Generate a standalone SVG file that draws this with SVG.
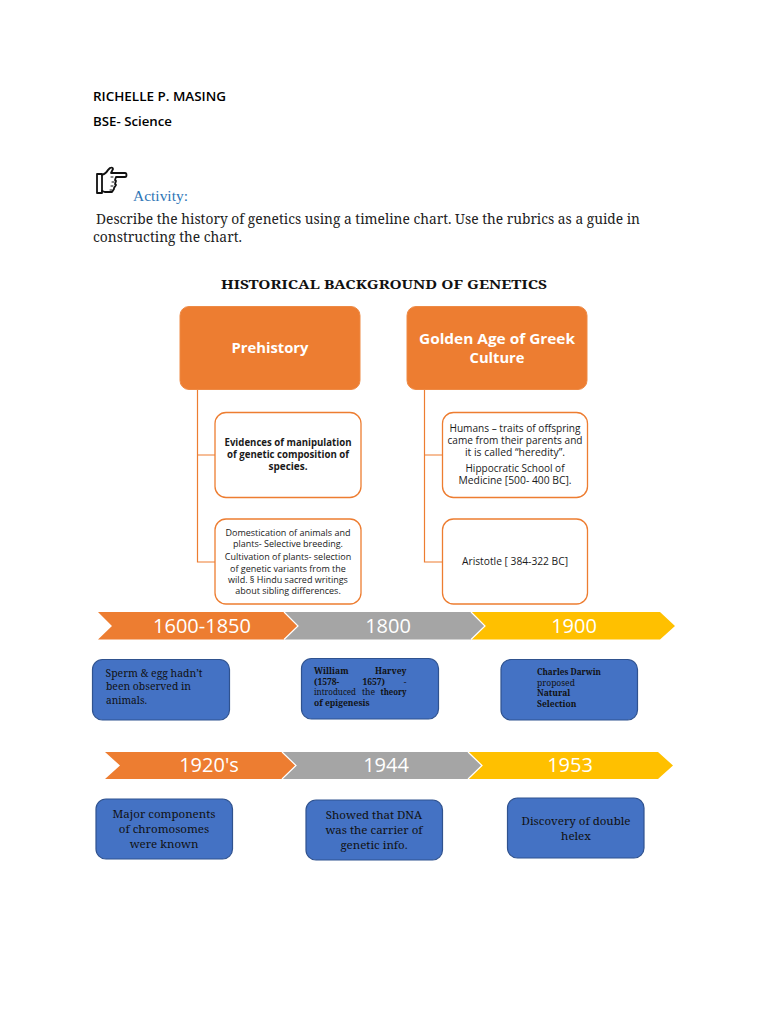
<svg xmlns="http://www.w3.org/2000/svg" width="768" height="1024" viewBox="0 0 768 1024">
<style>
text{font-family:"Open Sans","Noto Sans",sans-serif;fill:#1a1a1a}
.hd{font-size:13px;font-weight:600;fill:#000}
.body{font-family:"Noto Serif","DejaVu Serif","Liberation Serif",serif;font-size:14px;fill:#222}
.head{fill:#ed7d31;stroke:#ee8a45;stroke-width:1}
.headt{fill:#fff;font-size:14px;font-weight:700;text-anchor:middle}
.card{fill:#fff;stroke:#ed7d31;stroke-width:1.300}
.s{font-size:10px;text-anchor:middle}
.sm{font-size:9px;text-anchor:middle}
.yr{fill:#fff;font-size:20px;text-anchor:middle}
.blue{fill:#4472c4;stroke:#2f528f;stroke-width:1.200}
.bt{font-family:"Noto Serif","DejaVu Serif",serif;font-size:11px;fill:#111}
.btm{font-family:"Noto Serif","DejaVu Serif",serif;font-size:11.500px;fill:#111;text-anchor:middle}
.bb{font-family:"Noto Serif","DejaVu Serif",serif;font-size:8.500px;fill:#111;font-weight:700}
.bn{font-family:"Noto Serif","DejaVu Serif",serif;font-size:8.500px;fill:#111}
.c{fill:none;stroke:#ed7d31;stroke-width:1.200}
</style>
<g id="header">
<text class="hd" x="93" y="101" textLength="133" lengthAdjust="spacingAndGlyphs">RICHELLE P. MASING</text>
<text class="hd" x="93" y="126" textLength="79" lengthAdjust="spacingAndGlyphs">BSE- Science</text>
<g id="hand-icon" fill="none" stroke="#111" stroke-width="1.800" stroke-linejoin="round" stroke-linecap="round">
<path d="M97 174h5v19h-5z"/>
<path d="M102 175c3-1 5-3 6-5l2-2c2-1 3 0 3 1l-2 4h14c2 0 2 4 0 4h-9l-1 3 1 1-1 3 1 1-2 3 0 1-2 3h-7c-1 0-2-1-3-1"/>
<path d="M113 177h-2M114 182h-2M113 186h-2M112 190h-2" stroke-width="1"/>
</g>
<text x="133" y="201" font-size="14.500" style="font-family:'Liberation Serif',serif;fill:#2e75b6" textLength="55" lengthAdjust="spacingAndGlyphs">Activity:</text>
<text class="body" x="96" y="224" textLength="544" lengthAdjust="spacingAndGlyphs">Describe the history of genetics using a timeline chart. Use the rubrics as a guide in</text>
<text class="body" x="93" y="242" textLength="149" lengthAdjust="spacingAndGlyphs">constructing the chart.</text>
</g>
<text id="title" x="384" y="289" text-anchor="middle" style="font-family:'Noto Serif','DejaVu Serif',serif;font-weight:700;fill:#111" font-size="13" textLength="326" lengthAdjust="spacingAndGlyphs">HISTORICAL BACKGROUND OF GENETICS</text>
<g id="connectors">
<path class="c" d="M197.500 390V562H215M197.500 455H215"/>
<path class="c" d="M424.500 390V562H442M424.500 455H442"/>
</g>
<g id="prehistory"><rect class="head" x="180" y="306.500" width="180" height="83" rx="9"/><text class="headt" x="270" y="353" textLength="77" lengthAdjust="spacingAndGlyphs">Prehistory</text></g>
<g id="greek"><rect class="head" x="407" y="306.500" width="180" height="83" rx="9"/><text class="headt" x="497" y="344" textLength="156" lengthAdjust="spacingAndGlyphs">Golden Age of Greek</text><text class="headt" x="497" y="363" textLength="55" lengthAdjust="spacingAndGlyphs">Culture</text></g>
<g id="evidences"><rect class="card" x="215" y="412.500" width="146" height="85" rx="11"/>
<text class="s" x="288" y="446" font-weight="700" textLength="127" lengthAdjust="spacingAndGlyphs">Evidences of manipulation</text><text class="s" x="288" y="458" font-weight="700" textLength="122" lengthAdjust="spacingAndGlyphs">of genetic composition of</text><text class="s" x="288" y="470" font-weight="700">species.</text></g>
<g id="domestication"><rect class="card" x="215" y="519" width="146" height="85" rx="11"/>
<text class="sm" x="288" y="536">Domestication of animals and</text><text class="sm" x="288" y="547">plants- Selective breeding.</text><text class="sm" x="288" y="560">Cultivation of plants- selection</text><text class="sm" x="288" y="571.500">of genetic variants from the</text><text class="sm" x="288" y="582.500">wild. § Hindu sacred writings</text><text class="sm" x="288" y="593.500">about sibling differences.</text></g>
<g id="humans"><rect class="card" x="442.500" y="412.500" width="145" height="85" rx="11"/>
<text class="s" x="515" y="432" textLength="131" lengthAdjust="spacingAndGlyphs">Humans – traits of offspring</text><text class="s" x="515" y="444" textLength="135" lengthAdjust="spacingAndGlyphs">came from their parents and</text><text class="s" x="515" y="456" textLength="100" lengthAdjust="spacingAndGlyphs">it is called “heredity”.</text><text class="s" x="515" y="472">Hippocratic School of</text><text class="s" x="515" y="484" textLength="113" lengthAdjust="spacingAndGlyphs">Medicine [500- 400 BC].</text></g>
<g id="aristotle"><rect class="card" x="442.500" y="519" width="145" height="85" rx="11"/><text class="s" x="515" y="565" textLength="106" lengthAdjust="spacingAndGlyphs">Aristotle [ 384-322 BC]</text></g>
<g id="timeline-1">
<polygon fill="#ed7d31" points="98,612 284,612 298,626 284,639.500 98,639.500 112,626"/><text class="yr" x="202" y="633">1600-1850</text>
<polygon fill="#a5a5a5" points="284,612 471,612 485,626 471,639.500 284,639.500 298,626"/><text class="yr" x="388" y="633">1800</text>
<polygon fill="#ffc000" points="471,612 660,612 675,626 660,639.500 471,639.500 485,626"/><text class="yr" x="574" y="633">1900</text>
<path d="M284 612 298 626 284 639.500M471 612 485 626 471 639.500" fill="none" stroke="#fff" stroke-width="1.200"/>
</g>
<g id="timeline-2">
<polygon fill="#ed7d31" points="105,752 282,752 296,765.500 282,779 105,779 120,765.500"/><text class="yr" x="209" y="772">1920's</text>
<polygon fill="#a5a5a5" points="282,752 468,752 482,765.500 468,779 282,779 296,765.500"/><text class="yr" x="386" y="772">1944</text>
<polygon fill="#ffc000" points="468,752 658,752 673,765.500 658,779 468,779 482,765.500"/><text class="yr" x="570" y="772">1953</text>
<path d="M282 752 296 765.500 282 779M468 752 482 765.500 468 779" fill="none" stroke="#fff" stroke-width="1.200"/>
</g>
<g id="sperm"><rect class="blue" x="92.500" y="659.500" width="137" height="60.500" rx="10"/>
<text class="bt" x="105.500" y="677" textLength="97" lengthAdjust="spacingAndGlyphs">Sperm &amp; egg hadn’t</text><text class="bt" x="106" y="690" textLength="85" lengthAdjust="spacingAndGlyphs">been observed in</text><text class="bt" x="106" y="704" textLength="41" lengthAdjust="spacingAndGlyphs">animals.</text></g>
<g id="harvey"><rect class="blue" x="301.500" y="658.500" width="137" height="60.500" rx="10"/>
<text class="bb" x="314" y="674">William</text><text class="bb" x="406.500" y="674" text-anchor="end">Harvey</text>
<text class="bb" x="314" y="684.500">(1578-</text><text class="bb" x="385" y="684.500" text-anchor="end">1657)</text><text class="bn" x="406.500" y="684.500" text-anchor="end">-</text>
<text class="bn" x="314" y="695" textLength="42" lengthAdjust="spacingAndGlyphs">introduced</text><text class="bn" x="362" y="695" textLength="13" lengthAdjust="spacingAndGlyphs">the</text><text class="bb" x="406.500" y="695" text-anchor="end" textLength="26" lengthAdjust="spacingAndGlyphs">theory</text>
<text class="bb" x="314" y="706">of epigenesis</text></g>
<g id="darwin"><rect class="blue" x="501" y="659.500" width="136.500" height="60.500" rx="10"/>
<text class="bb" x="537" y="675" textLength="64" lengthAdjust="spacingAndGlyphs">Charles Darwin</text><text class="bn" x="537" y="685.500">proposed</text><text class="bb" x="537" y="696">Natural</text><text class="bb" x="537" y="707">Selection</text></g>
<g id="components"><rect class="blue" x="96" y="799" width="136.500" height="60" rx="10"/>
<text class="btm" x="164" y="818">Major components</text><text class="btm" x="164" y="833">of chromosomes</text><text class="btm" x="164" y="848">were known</text></g>
<g id="dna"><rect class="blue" x="306" y="800" width="136.500" height="60" rx="10"/>
<text class="btm" x="374" y="819">Showed that DNA</text><text class="btm" x="374" y="834">was the carrier of</text><text class="btm" x="374" y="849">genetic info.</text></g>
<g id="helix"><rect class="blue" x="507.500" y="798" width="136.500" height="60" rx="10"/>
<text class="btm" x="576" y="825">Discovery of double</text><text class="btm" x="576" y="840">helex</text></g>
</svg>
